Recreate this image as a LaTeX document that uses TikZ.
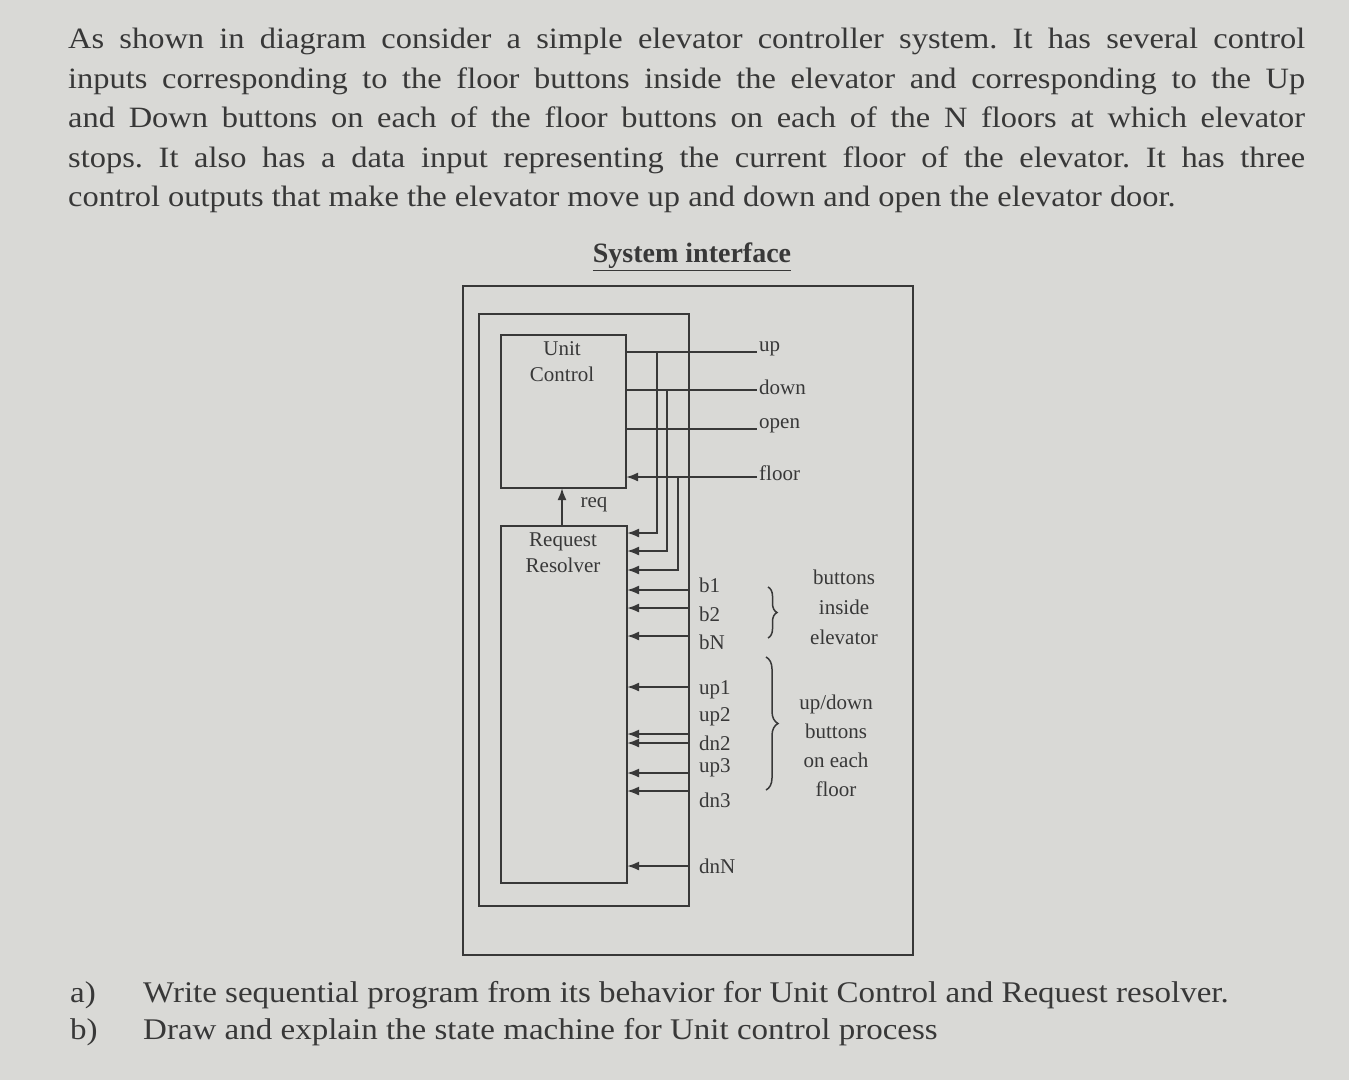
\documentclass[tikz,border=0pt]{standalone}
\usepackage{fontspec}
\setmainfont{Liberation Serif}
\newfontfamily\widefont[FakeStretch=1.1]{Liberation Serif}
\usetikzlibrary{decorations.pathreplacing,arrows.meta}
\definecolor{bg}{HTML}{D9D9D6}
\definecolor{ink}{HTML}{383838}
\begin{document}
\frenchspacing
\begin{tikzpicture}[x=1pt,y=-1pt,
  wire/.style={draw=ink,line width=2pt},
  arr/.style={wire,-{Latex[length=12pt,width=9pt]}},
  lbl/.style={text=ink,font=\fontsize{21}{24}\selectfont,inner sep=0pt},
  blk/.style={draw=ink,line width=2pt},
  big/.style={text=ink,font=\widefont\fontsize{30}{30}\selectfont,anchor=base west,inner sep=0pt}]
\fill[bg] (0,0) rectangle (1349,1080);
\useasboundingbox (0,0) rectangle (1349,1080);
\node[anchor=north west,text width=1237pt,align=justify,text=ink,inner sep=0pt,
  font=\widefont\fontsize{29.5}{39.5}\selectfont] (para) at (68,28)
 {As shown in diagram consider a simple elevator controller system. It has several control\linebreak inputs corresponding to the floor buttons inside the elevator and corresponding to the Up\linebreak and Down buttons on each of the floor buttons on each of the N floors at which elevator\linebreak stops. It also has a data input representing the current floor of the elevator. It has three\linebreak control outputs that make the elevator move up and down and open the elevator door.};
\node[text=ink,font=\fontsize{28}{30}\bfseries\selectfont,inner sep=0pt] (title) at (692,257) {\underline{System interface}};
% boxes
\draw[blk] (463,286) rectangle (913,955);
\draw[blk] (479,314) rectangle (689,906);
\node[blk,minimum width=125pt,minimum height=153pt,anchor=north west,inner sep=0pt] (uc) at (500,334) {};
\node[lbl,anchor=north] at (562,338) {\begin{tabular}{c}Unit\\[2pt]Control\end{tabular}};
\node[blk,minimum width=126pt,minimum height=357pt,anchor=north west,inner sep=0pt] (rr) at (500,525) {};
\node[lbl,anchor=north] at (563,529) {\begin{tabular}{c}Request\\[2pt]Resolver\end{tabular}};
\coordinate (reqs) at (562,525);
\coordinate (reqe) at (562,488);
\draw[arr] (reqs) -- (reqe);
\node[lbl] (req) at (594,505) {req};
% outputs
\foreach \n/\y/\t in {up/352/up,down/390/down,open/429/open}{
  \coordinate (\n s) at (625,\y);
  \coordinate (\n e) at (757,\y);
  \draw[wire] (\n s) -- (\n e);
  \node[lbl,anchor=west] (\n l) at (759,\y-3) {\t};
}
\coordinate (floors) at (757,477);
\coordinate (floore) at (626,477);
\draw[arr] (floors) -- (floore);
\node[lbl,anchor=west] (floorl) at (759,473) {floor};
% taps
\draw[arr] (657,352) -- (657,533) -- (627,533);
\draw[arr] (667,390) -- (667,551) -- (627,551);
\draw[arr] (678,477) -- (678,570) -- (627,570);
% inputs
\foreach \y/\t/\ly in {590/b1/585,608/b2/614,636/bN/642,687/up1/690,734/up2/717,743/dn2/743,773/up3/768,791/dn3/800,866/dnN/866}{
  \draw[arr] (689,\y) -- (627,\y);
  \node[lbl,anchor=west] at (699,\ly) {\t};
}
\draw[ink,line width=1.5pt,decorate,decoration={brace,amplitude=9pt}] (768,587) -- (768,638);
\draw[ink,line width=1.5pt,decorate,decoration={brace,amplitude=12pt}] (766,657) -- (766,790);
\node[lbl,align=center,font=\fontsize{21}{30}\selectfont] at (844,607) {buttons\\inside\\elevator};
\node[lbl,align=center,font=\fontsize{21}{29}\selectfont] at (836,746) {up/down\\buttons\\on each\\floor};
% questions
\node[big] (qa) at (70,1002) {a)};
\node[big] (qat) at (143,1002) {Write sequential program from its behavior for Unit Control and Request resolver.};
\node[big] (qb) at (70,1039) {b)};
\node[big] (qbt) at (143,1039) {Draw and explain the state machine for Unit control process};
\end{tikzpicture}
\end{document}
